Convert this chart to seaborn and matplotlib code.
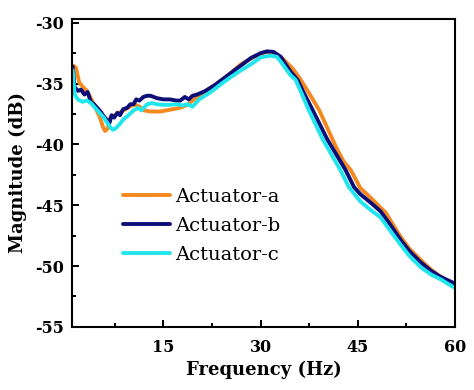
import matplotlib
matplotlib.use("Agg")
import matplotlib.pyplot as plt
import pandas as pd
import seaborn as sns
from matplotlib.ticker import MultipleLocator

# Actuator-a (orange)
freq_a = [1.0, 1.5, 2.0, 2.6, 3.2, 3.8, 4.5, 5.2, 5.7, 6.0, 6.4, 6.8, 7.5, 8.5, 9.5,
          10.5, 11.3, 12.0, 13.0, 14.5, 16.0, 17.5, 18.5, 19.5, 21.0, 23.0, 25.0, 27.0,
          29.0, 30.5, 31.5, 32.5, 33.5, 35.0, 36.2, 37.6, 39.0, 40.0, 41.1, 42.0, 42.8,
          43.9, 45.4, 47.0, 48.5, 49.3, 50.2, 51.6, 53.0, 54.7, 56.3, 57.8, 60.0]
mag_a = [-33.5, -33.7, -34.9, -35.3, -35.6, -36.2, -37.0, -37.8, -38.6, -38.9, -38.7,
         -37.8, -37.6, -37.3, -37.0, -36.7, -36.9, -37.2, -37.3, -37.3, -37.15, -37.0,
         -36.8, -36.4, -35.8, -35.1, -34.3, -33.4, -32.8, -32.45, -32.4, -32.6, -33.0,
         -33.8, -34.7, -35.9, -37.15, -38.3, -39.6, -40.6, -41.4, -42.1, -43.6, -44.4,
         -45.2, -45.6, -46.4, -47.6, -48.6, -49.5, -50.3, -50.9, -51.6]

# Actuator-b (navy)
freq_b = [1.0, 1.3, 1.8, 2.3, 2.8, 3.3, 3.8, 4.3, 4.8, 5.3, 5.8, 6.3, 6.7, 7.0, 7.4,
          7.9, 8.3, 8.8, 9.4, 9.9, 10.4, 10.8, 11.3, 11.9, 12.5, 13.0, 14.0, 15.0, 16.0,
          17.0, 17.6, 18.3, 18.9, 19.5, 20.2, 21.5, 23.0, 25.0, 27.0, 28.5, 30.0, 31.0,
          32.0, 33.1, 34.6, 35.7, 36.7, 38.0, 40.3, 43.1, 44.4, 45.4, 47.0, 48.5, 50.0,
          51.6, 53.0, 54.7, 56.3, 57.8, 59.0, 60.0]
mag_b = [-33.6, -35.3, -35.6, -35.5, -35.9, -35.7, -36.5, -36.7, -37.0, -37.3, -37.7,
         -38.0, -38.2, -37.6, -37.8, -37.4, -37.6, -37.1, -37.0, -36.7, -36.7, -36.3,
         -36.4, -36.1, -36.0, -36.0, -36.2, -36.3, -36.3, -36.4, -36.4, -36.1, -36.3,
         -36.0, -35.9, -35.6, -35.1, -34.3, -33.5, -32.9, -32.5, -32.35, -32.4, -32.8,
         -34.0, -34.7, -35.8, -37.15, -39.6, -42.1, -43.5, -44.1, -44.8, -45.5, -46.6,
         -47.85, -48.8, -49.7, -50.4, -50.9, -51.2, -51.45]

# Actuator-c (cyan)
freq_c = [1.0, 1.3, 1.8, 2.5, 3.2, 3.8, 4.3, 4.8, 5.3, 5.8, 6.3, 6.8, 7.2, 7.6, 8.3,
          8.9, 9.4, 10.0, 10.4, 11.1, 11.6, 12.5, 13.2, 14.0, 15.0, 16.0, 17.0, 18.0,
          18.8, 19.5, 20.5, 22.3, 24.0, 25.3, 27.0, 28.4, 30.0, 31.5, 32.5, 33.1, 34.6,
          35.4, 36.4, 37.4, 39.6, 42.3, 43.6, 45.4, 47.0, 48.5, 50.0, 51.6, 53.0, 54.7,
          56.3, 57.8, 59.0, 60.0]
mag_c = [-33.9, -35.9, -36.3, -36.5, -36.4, -36.6, -36.9, -37.2, -37.5, -37.8, -38.2,
         -38.6, -38.8, -38.7, -38.3, -37.9, -37.7, -37.4, -37.2, -37.0, -37.2, -36.7,
         -36.6, -36.7, -36.75, -36.75, -36.7, -36.8, -36.7, -36.9, -36.3, -35.7, -35.0,
         -34.5, -33.9, -33.45, -32.85, -32.7, -32.8, -33.2, -34.3, -34.7, -35.9, -37.15,
         -39.6, -42.1, -43.5, -44.7, -45.4, -46.0, -47.1, -48.25, -49.2, -50.1, -50.7,
         -51.1, -51.5, -51.8]

labels = ["Actuator-a", "Actuator-b", "Actuator-c"]
colors = ["#F4891F", "#0E0E78", "#22E6EE"]

df = pd.concat([
    pd.DataFrame({"freq": freq_a, "mag": mag_a, "actuator": labels[0]}),
    pd.DataFrame({"freq": freq_b, "mag": mag_b, "actuator": labels[1]}),
    pd.DataFrame({"freq": freq_c, "mag": mag_c, "actuator": labels[2]}),
])

sns.set_style("ticks", {"axes.edgecolor": "black", "text.color": "black",
                        "xtick.color": "black", "ytick.color": "black",
                        "axes.labelcolor": "black"})
plt.rcParams["font.family"] = ["DejaVu Serif"]
plt.rcParams["axes.unicode_minus"] = False

fig = plt.figure(figsize=(4.74, 3.9), dpi=100)
ax = fig.add_axes([0.152, 0.162, 0.808, 0.789])

sns.lineplot(data=df, x="freq", y="mag", hue="actuator", hue_order=labels,
             palette=colors, linewidth=2.8, estimator=None, sort=False, ax=ax)

ax.set_xlim(0.9, 60)
ax.set_ylim(-55, -29.7)
ax.xaxis.set_major_locator(MultipleLocator(15))
ax.xaxis.set_minor_locator(MultipleLocator(7.5))
ax.yaxis.set_major_locator(MultipleLocator(5))
ax.yaxis.set_minor_locator(MultipleLocator(2.5))
ax.tick_params(which="both", direction="in", width=1.4, top=False, right=False)
ax.tick_params(which="major", length=5, labelsize=11.5)
ax.tick_params(axis="x", which="major", pad=9)
ax.tick_params(axis="y", which="major", pad=6)
ax.tick_params(which="minor", length=3)
for lab in ax.get_xticklabels() + ax.get_yticklabels():
    lab.set_fontweight("bold")
for sp in ax.spines.values():
    sp.set_linewidth(1.5)

ax.set_xlabel("Frequency (Hz)", fontsize=13, fontweight="bold", labelpad=3)
ax.set_ylabel("Magnitude (dB)", fontsize=13, fontweight="bold", labelpad=6)

ax.legend(loc="center left", bbox_to_anchor=(0.133, 0.328), frameon=False,
          fontsize=14, handlelength=2.4, handletextpad=0.3, labelspacing=0.55,
          borderpad=0, borderaxespad=0)

fig.savefig("out.png", dpi=100)
